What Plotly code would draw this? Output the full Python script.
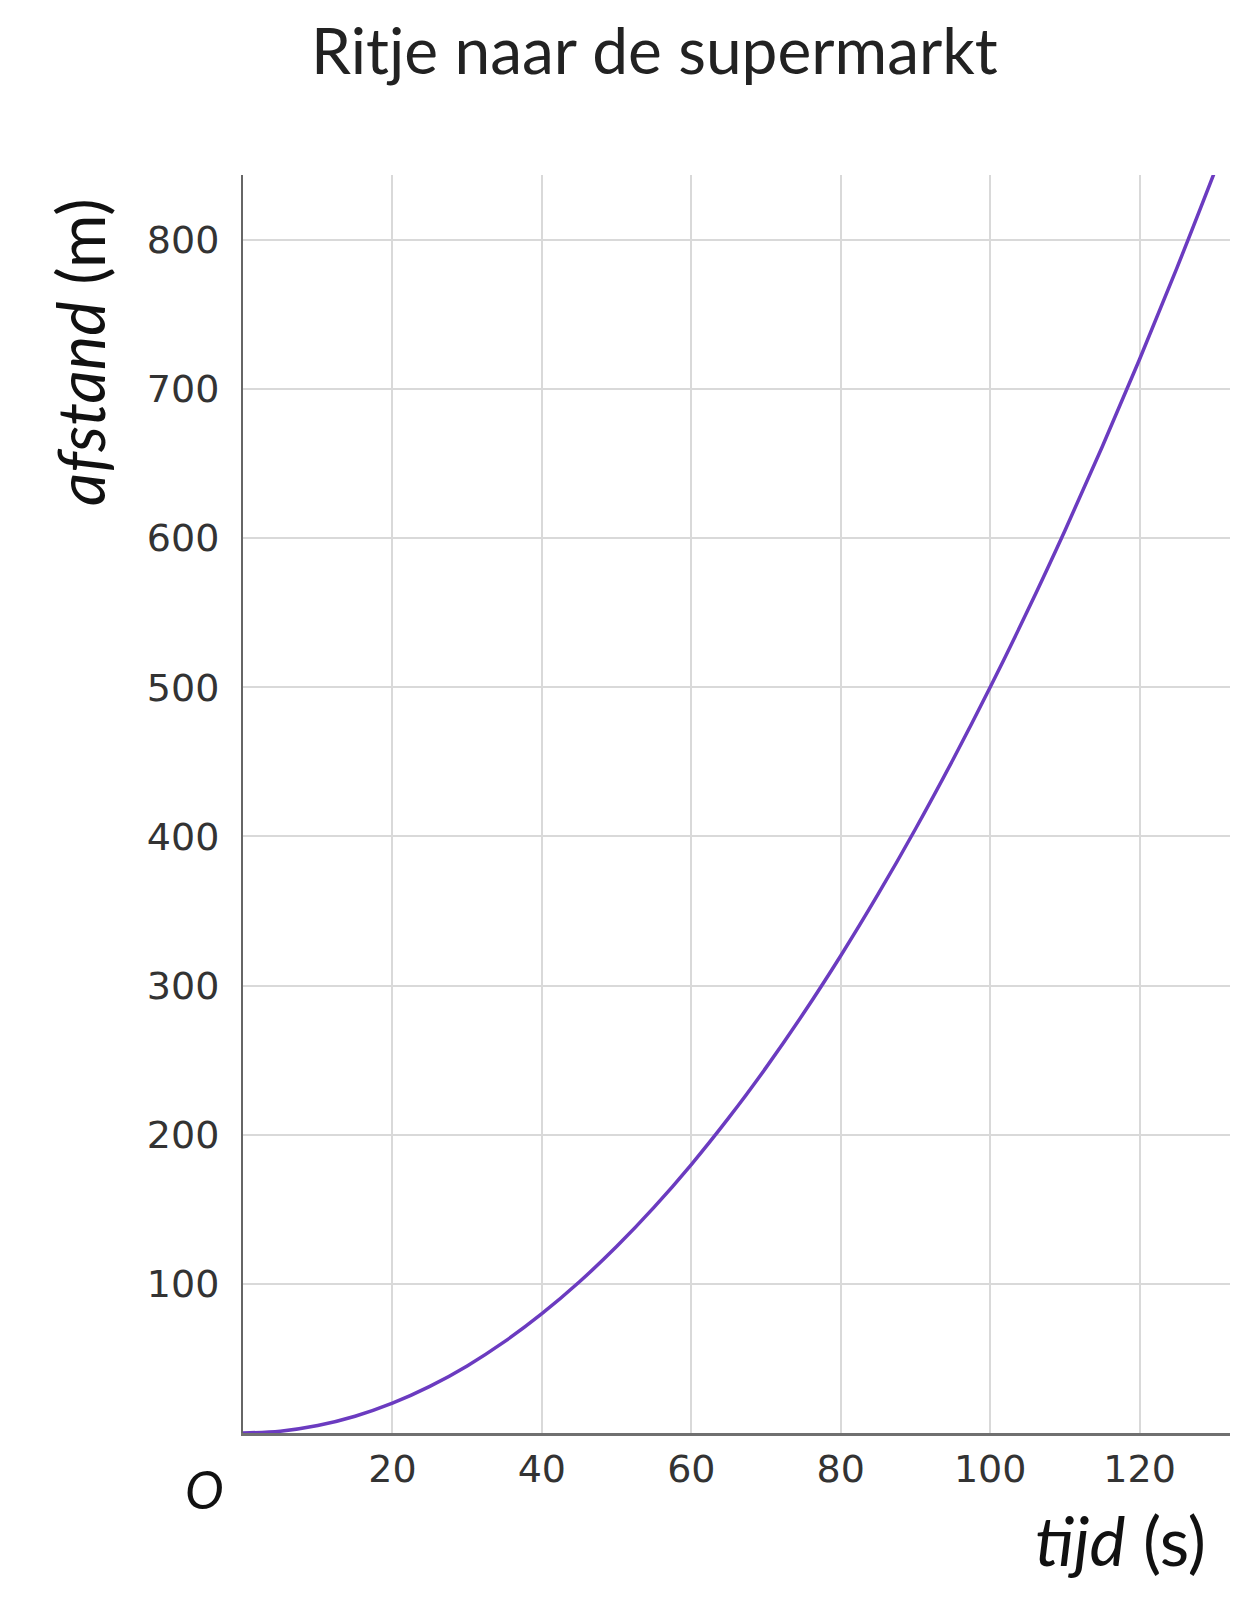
import plotly.graph_objects as go

# Data
tijd = [0, 5, 10, 15, 20, 25, 30, 35, 40, 45, 50, 55, 60, 65, 70, 75, 80,
        85, 90, 95, 100, 105, 110, 115, 120, 125, 130]
afstand = [0, 1.25, 5, 11.25, 20, 31.25, 45, 61.25, 80, 101.25, 125, 151.25,
           180, 211.25, 245, 281.25, 320, 361.25, 405, 451.25, 500, 551.25,
           605, 661.25, 720, 781.25, 845]

x_ticks = [20, 40, 60, 80, 100, 120]
y_ticks = [100, 200, 300, 400, 500, 600, 700, 800]

title_text = "Ritje naar de supermarkt"
x_title = "<i>tijd</i> (s)"
y_title = "<i>afstand</i> (m)"

FONT = "Lato"
TICKFONT = "DejaVu Sans"
L, R, T, B = 235, 32, 167, 173
PW = 1254 - L - R
PH = 1598 - T - B
OX, OY = 8, 8  # page offset

def px(xf):
    return (xf - OX - L) / PW

def py(yf):
    return 1 - (yf - OY - T) / PH

fig = go.Figure()
fig.add_trace(go.Scatter(
    x=tijd, y=afstand, mode="lines",
    line=dict(color="#6B3BC0", width=3.5, shape="spline"),
    hoverinfo="skip", showlegend=False,
))

fig.update_layout(
    width=1254, height=1598,
    margin=dict(l=L, r=R, t=T, b=B),
    paper_bgcolor="white", plot_bgcolor="white",
    font=dict(family=FONT, color="#333333"),
    xaxis=dict(
        range=[0, 132.1], tickvals=x_ticks, ticktext=[str(v) for v in x_ticks],
        showgrid=True, gridcolor="#d9d9d9", gridwidth=1.5,
        showline=True, linecolor="#707070", linewidth=3,
        zeroline=False, ticks="", ticklabelstandoff=0,
        tickfont=dict(size=38, family=TICKFONT, color="#333333"),
        fixedrange=True,
    ),
    yaxis=dict(
        range=[0, 843.5], tickvals=y_ticks, ticktext=[str(v) for v in y_ticks],
        showgrid=True, gridcolor="#d9d9d9", gridwidth=1.5,
        showline=True, linecolor="#666666", linewidth=2,
        zeroline=False, ticks="", ticklabelstandoff=14,
        tickfont=dict(size=38, family=TICKFONT, color="#333333"),
        fixedrange=True,
    ),
    annotations=[
        dict(text=title_text, xref="paper", yref="paper", x=px(654),
             y=py(50), xanchor="center", yanchor="middle",
             showarrow=False, font=dict(size=64, family=FONT, color="#222222")),
        dict(text=x_title, xref="paper", yref="paper", x=px(1208),
             y=py(1540), xanchor="right", yanchor="middle",
             showarrow=False, font=dict(size=68, family=FONT, color="#111111")),
        dict(text=y_title, xref="paper", yref="paper", x=px(80),
             y=py(352), xanchor="center", yanchor="middle",
             textangle=-90, showarrow=False,
             font=dict(size=65, family=FONT, color="#111111")),
        dict(text="<i>O</i>", xref="paper", yref="paper", x=px(204),
             y=py(1489), xanchor="center", yanchor="middle",
             showarrow=False, font=dict(size=52, family=FONT, color="#111111")),
    ],
)

fig.write_html("out.html")
